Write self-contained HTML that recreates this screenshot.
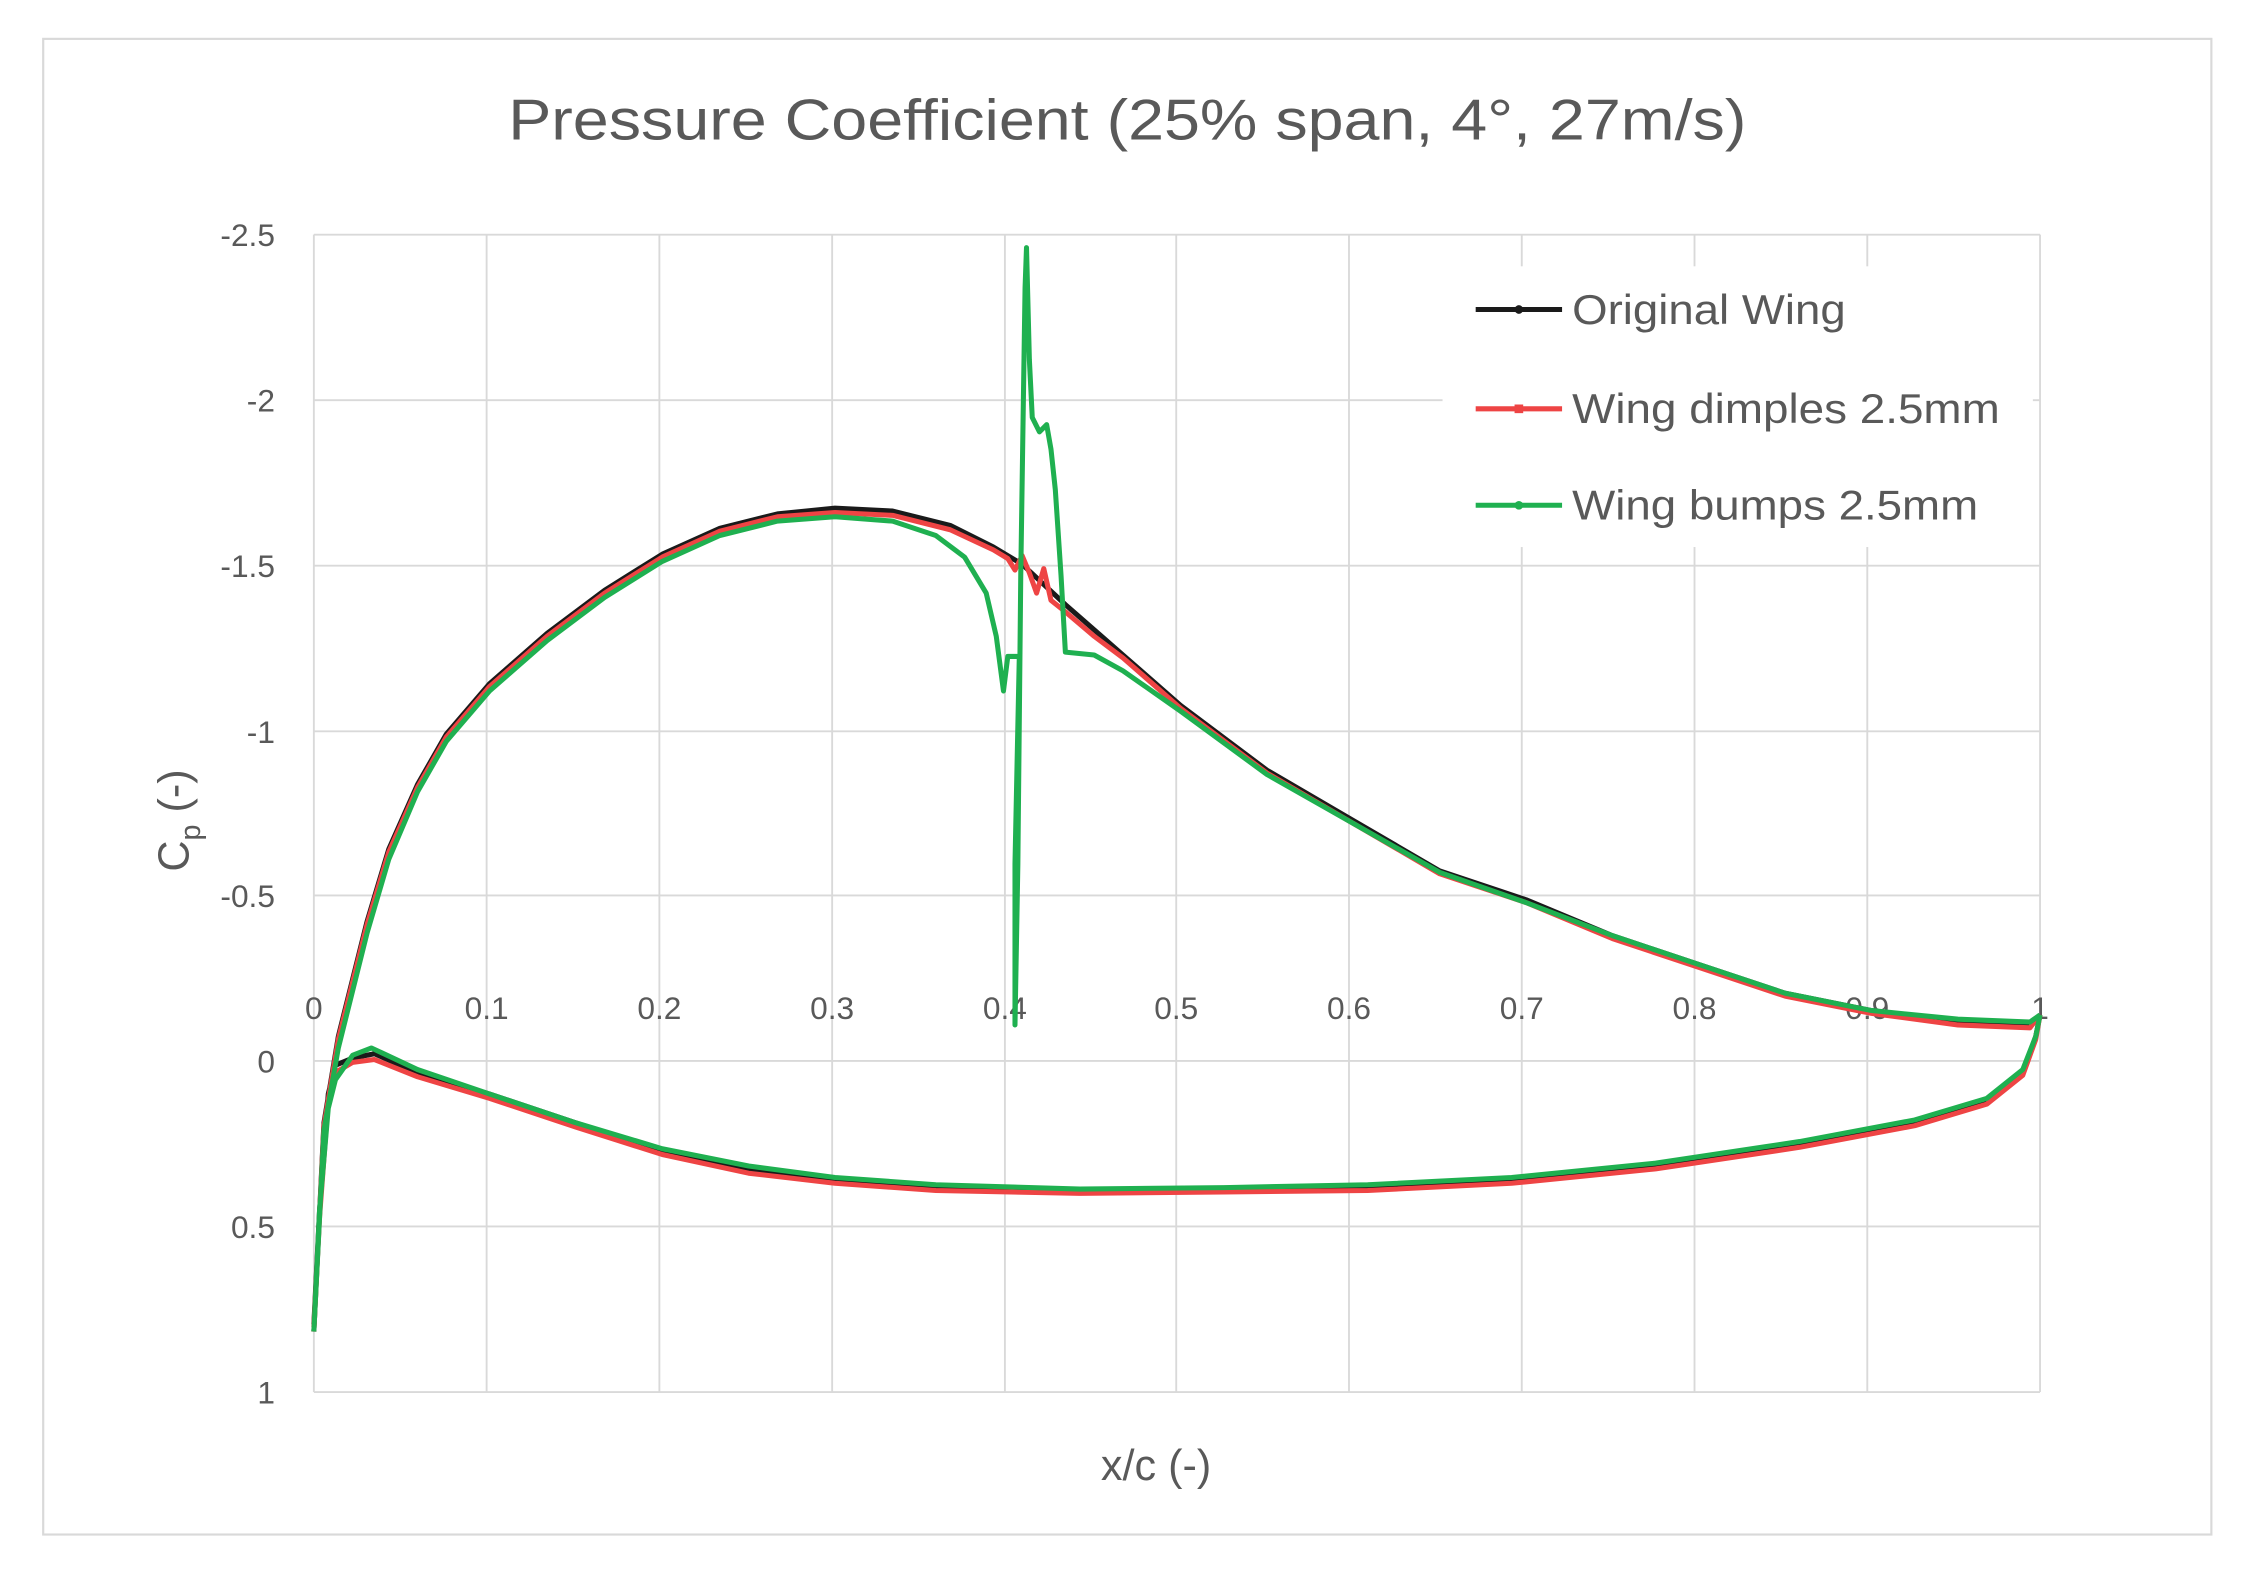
<!DOCTYPE html>
<html><head><meta charset="utf-8"><style>html,body{margin:0;padding:0;background:#fff}svg{display:block}</style></head>
<body>
<svg width="2256" height="1577" viewBox="0 0 1567 1095.5" preserveAspectRatio="none" xmlns="http://www.w3.org/2000/svg" font-family="Liberation Sans, sans-serif">
<rect x="0" y="0" width="1567" height="1096" fill="#fff"/>
<rect x="30" y="27" width="1506" height="1039" fill="none" stroke="#d9d9d9" stroke-width="1.5"/>
<text x="353" y="97" font-size="40" fill="#595959" textLength="860" lengthAdjust="spacingAndGlyphs">Pressure Coefficient (25% span, 4°, 27m/s)</text>
<g stroke="#d9d9d9" stroke-width="1.3">
<line x1="218" y1="163" x2="1417" y2="163"/><line x1="218" y1="278" x2="1417" y2="278"/><line x1="218" y1="393" x2="1417" y2="393"/><line x1="218" y1="508" x2="1417" y2="508"/><line x1="218" y1="622" x2="1417" y2="622"/><line x1="218" y1="737" x2="1417" y2="737"/><line x1="218" y1="852" x2="1417" y2="852"/><line x1="218" y1="967" x2="1417" y2="967"/>
<line x1="218" y1="163" x2="218" y2="967"/><line x1="338" y1="163" x2="338" y2="967"/><line x1="458" y1="163" x2="458" y2="967"/><line x1="578" y1="163" x2="578" y2="967"/><line x1="698" y1="163" x2="698" y2="967"/><line x1="817" y1="163" x2="817" y2="967"/><line x1="937" y1="163" x2="937" y2="967"/><line x1="1057" y1="163" x2="1057" y2="967"/><line x1="1177" y1="163" x2="1177" y2="967"/><line x1="1297" y1="163" x2="1297" y2="967"/><line x1="1417" y1="163" x2="1417" y2="967"/>
</g>
<g font-size="22" fill="#595959" text-anchor="end">
<text x="191" y="171">-2.5</text><text x="191" y="286">-2</text><text x="191" y="401">-1.5</text><text x="191" y="516">-1</text><text x="191" y="630">-0.5</text><text x="191" y="745">0</text><text x="191" y="860">0.5</text><text x="191" y="975">1</text>
</g>
<g font-size="22" fill="#595959" text-anchor="middle">
<text x="218" y="708">0</text><text x="338" y="708">0.1</text><text x="458" y="708">0.2</text><text x="578" y="708">0.3</text><text x="698" y="708">0.4</text><text x="817" y="708">0.5</text><text x="937" y="708">0.6</text><text x="1057" y="708">0.7</text><text x="1177" y="708">0.8</text><text x="1297" y="708">0.9</text><text x="1417" y="708">1</text>
</g>
<text x="803" y="1028" font-size="30" fill="#595959" text-anchor="middle">x/c (-)</text>
<text transform="translate(131,570) rotate(-90)" font-size="30" fill="#595959" text-anchor="middle">C<tspan font-size="20" dy="8">p</tspan><tspan dy="-8"> (-)</tspan></text>
<g fill="none" stroke-linejoin="round" stroke-width="3.5">
<path stroke="#1a1a1a" d="M218,925 L225,780 235,720 245,680 255,640 270,590 290,545 310,510 340,475 380,440 420,410 460,385 500,367 540,357 580,353 620,355 660,365 690,380 710,392 740,420 780,455 820,490 880,535 940,570 1000,605 1060,625 1120,650 1180,670 1240,690 1300,702 1360,710 1410,712 1417,705 M218,920 L222,840 228,760 233,740 245,735 260,732 290,745 340,760 400,780 460,800 520,812 580,820 650,825 750,827 850,826 950,825 1050,820 1150,810 1250,795 1330,780 1380,765 1405,745 1414,720 1417,705"/>
<path stroke="#ee4444" d="M218,925 L225,782 235,722 245,682 255,642 270,592 290,547 310,512 340,477 380,442 420,412 460,387 500,369 540,359 580,356 620,358 660,368 690,382 700,388 705,396 710,386 715,398 720,412 725,395 730,417 740,425 760,442 780,457 820,492 880,537 940,572 1000,607 1060,627 1120,652 1180,672 1240,692 1300,704 1360,712 1410,714 1417,705 M218,922 L222,845 228,765 233,745 245,738 260,736 290,748 340,763 400,783 460,802 520,815 580,822 650,827 750,829 850,828 950,827 1050,822 1150,812 1250,797 1330,782 1380,767 1405,747 1414,722 1417,705"/>
<path stroke="#1fb050" d="M218,925 L225,785 235,728 245,688 255,648 270,597 290,550 310,515 340,480 380,445 420,415 460,390 500,372 540,362 580,359 620,362 650,372 670,387 685,412 692,442 697,480 700,456 708,456 705,600 705,712 707,600 709,400 712,200 713,172 715,250 717,290 722,300 727,295 730,312 733,340 737,400 740,453 760,455 780,466 820,494 880,538 940,572 1000,606 1060,627 1120,650 1180,670 1240,690 1300,702 1360,708 1410,710 1417,705 M218,925 L222,840 228,770 233,750 245,733 258,728 290,743 340,760 400,780 460,798 520,810 580,818 650,823 750,826 850,825 950,823 1050,818 1150,808 1250,793 1330,778 1380,763 1405,743 1414,720 1417,705"/>
</g>
<rect x="1002" y="185" width="410" height="195" fill="#fff"/>
<g stroke-width="3.5">
<line x1="1025" y1="215" x2="1085" y2="215" stroke="#1a1a1a"/><circle cx="1055" cy="215" r="3" fill="#1a1a1a"/>
<line x1="1025" y1="284" x2="1085" y2="284" stroke="#ee4444"/><rect x="1052" y="281" width="6" height="6" fill="#ee4444"/>
<line x1="1025" y1="351" x2="1085" y2="351" stroke="#1fb050"/><circle cx="1055" cy="351" r="3" fill="#1fb050"/>
</g>
<g font-size="29" fill="#595959">
<text x="1092" y="225" textLength="190" lengthAdjust="spacingAndGlyphs">Original Wing</text><text x="1092" y="294" textLength="297" lengthAdjust="spacingAndGlyphs">Wing dimples 2.5mm</text><text x="1092" y="361" textLength="282" lengthAdjust="spacingAndGlyphs">Wing bumps 2.5mm</text>
</g>
</svg>
</body></html>
